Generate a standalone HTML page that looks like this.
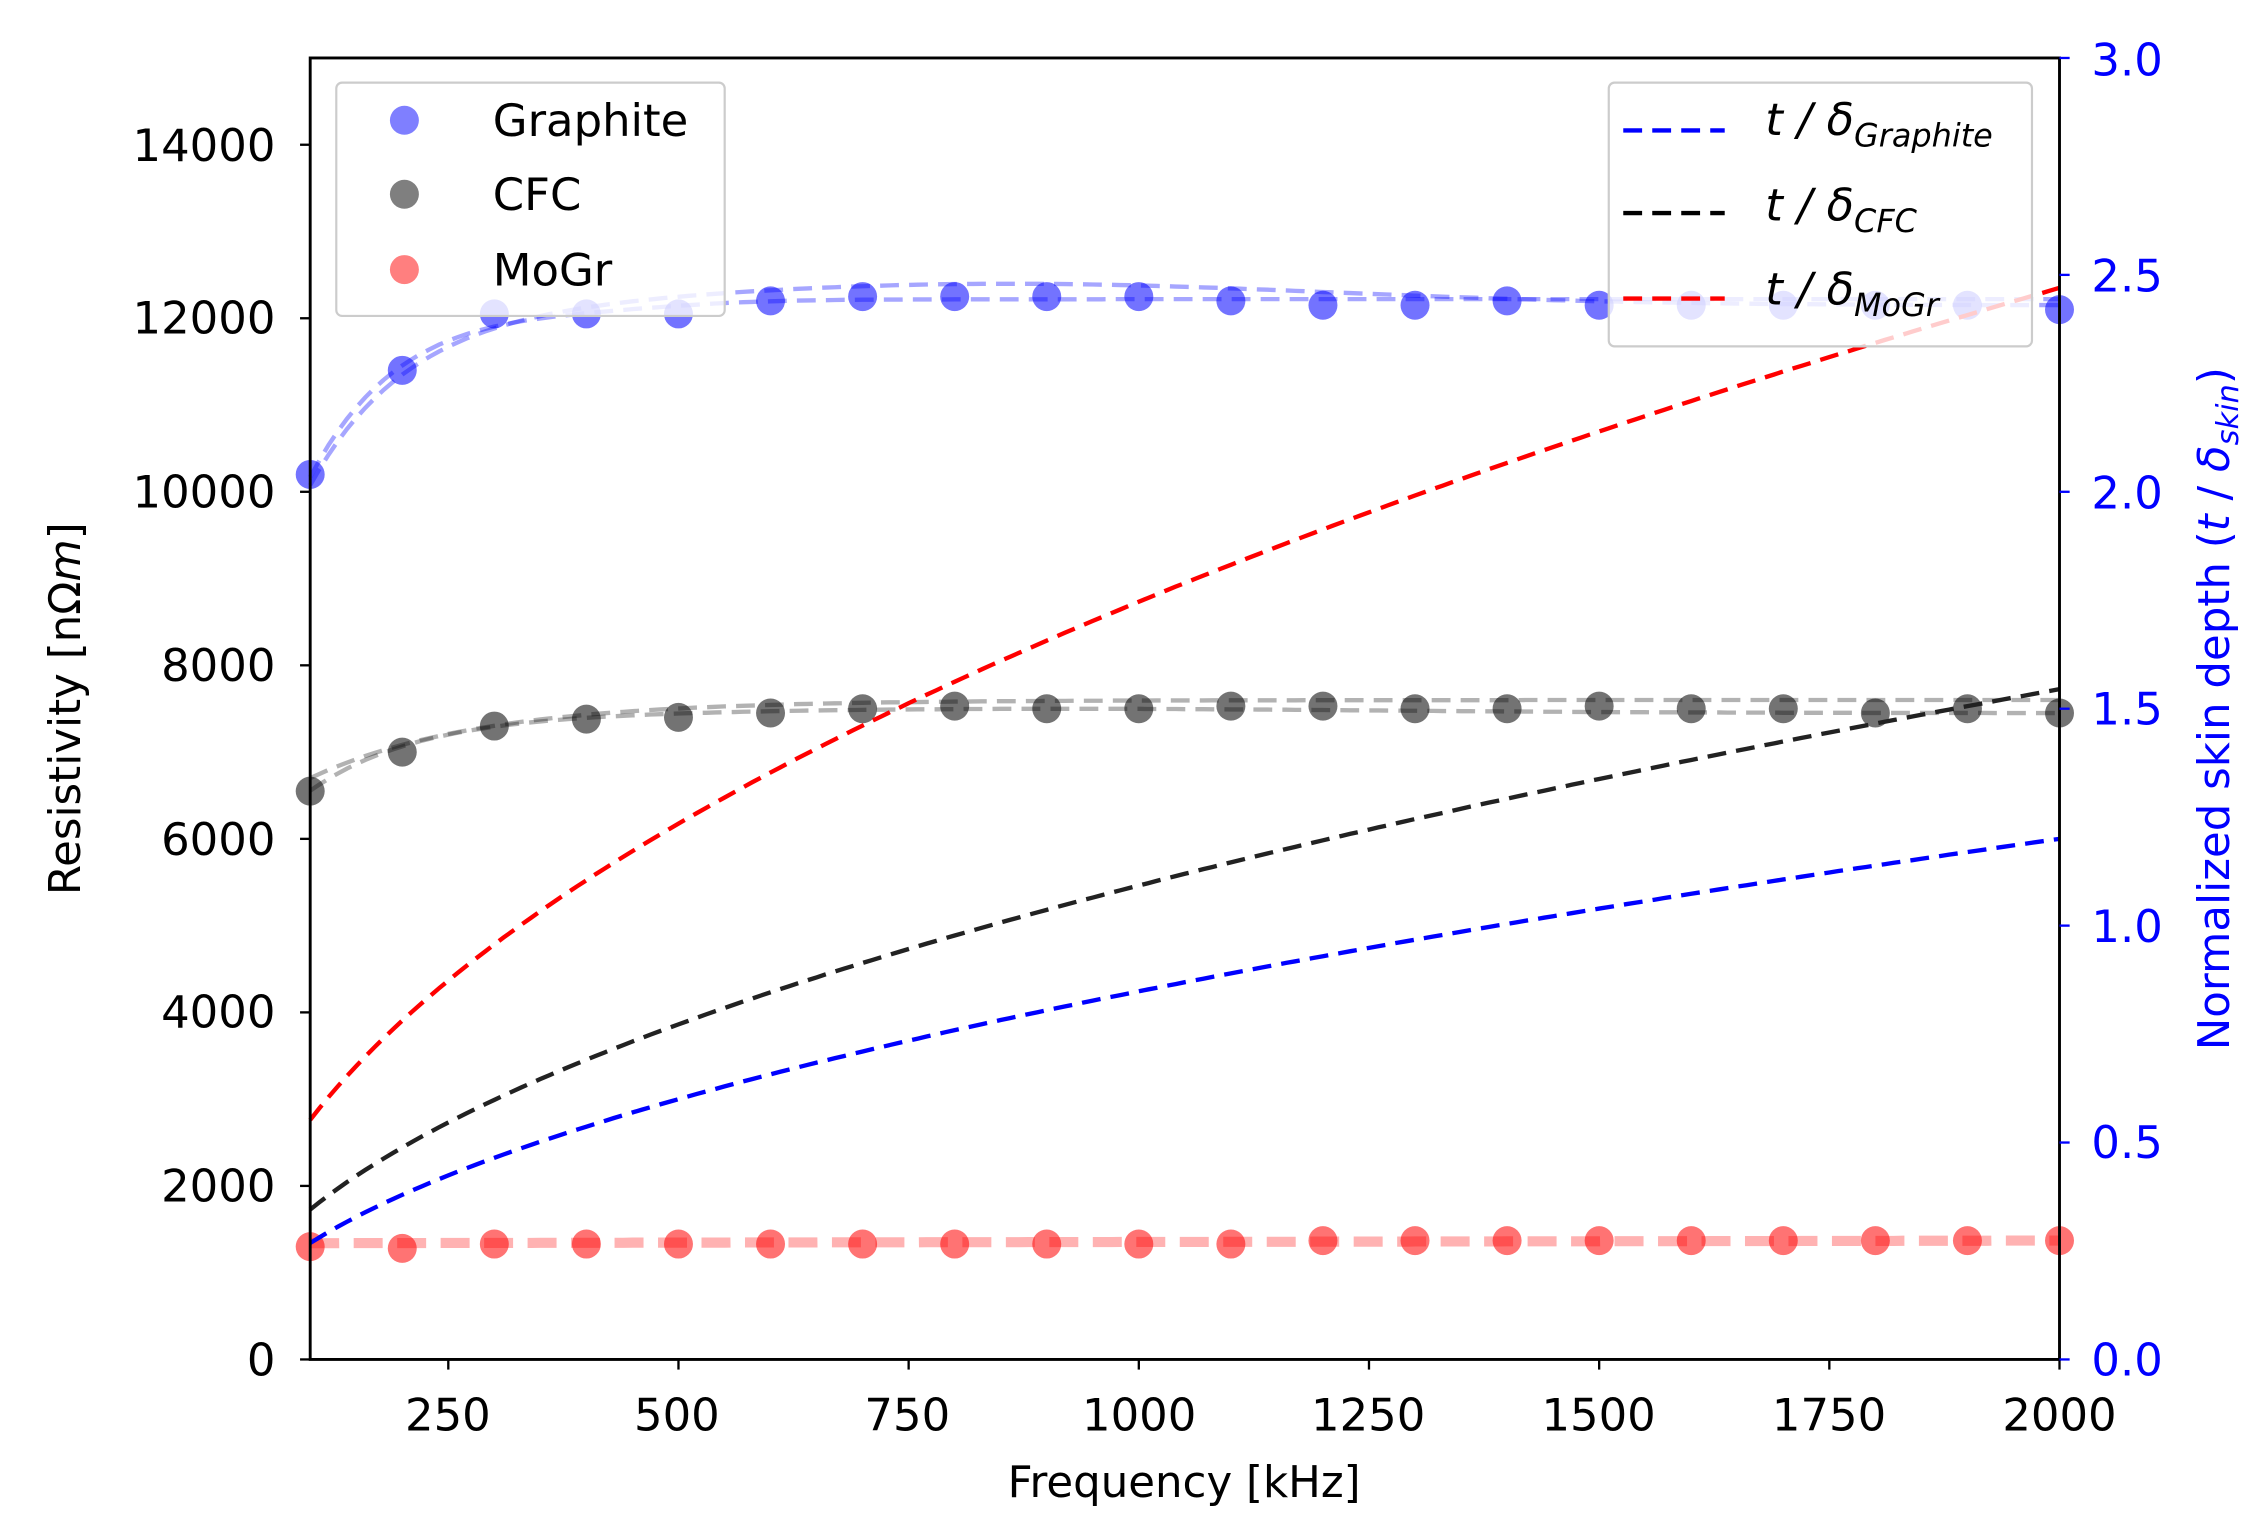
<!DOCTYPE html>
<html><head><meta charset="utf-8"><style>
html,body{margin:0;padding:0;background:#fff;}
svg{display:block;}
text{font-family:"DejaVu Sans","Liberation Sans",sans-serif;}
</style></head><body>
<svg id="s" width="2261" height="1528" viewBox="0 0 1560 1054.3" xmlns="http://www.w3.org/2000/svg">
<rect width="1560" height="1055" fill="#fff"/>
<g id="data"></g>
<rect x="214" y="40" width="1207" height="898" fill="none" stroke="#000" stroke-width="2"/>
<g id="ticks" stroke-width="1.6"></g>
<g font-size="31" fill="#000" text-anchor="end">
<text x="190" y="949">0</text>
<text x="190" y="829">2000</text>
<text x="190" y="709">4000</text>
<text x="190" y="590">6000</text>
<text x="190" y="470">8000</text>
<text x="190" y="350">10000</text>
<text x="190" y="230">12000</text>
<text x="190" y="111">14000</text>
</g>
<g font-size="31" fill="#000" text-anchor="middle">
<text x="309" y="987">250</text>
<text x="467" y="987">500</text>
<text x="626" y="987">750</text>
<text x="786" y="987">1000</text>
<text x="944" y="987">1250</text>
<text x="1103" y="987">1500</text>
<text x="1262" y="987">1750</text>
<text x="1421" y="987">2000</text>
</g>
<g font-size="31" fill="#0000ff" text-anchor="start">
<text x="1443" y="949">0.0</text>
<text x="1443" y="799">0.5</text>
<text x="1443" y="650">1.0</text>
<text x="1443" y="500">1.5</text>
<text x="1443" y="351">2.0</text>
<text x="1443" y="201">2.5</text>
<text x="1443" y="52">3.0</text>
</g>
<text x="817" y="1033" font-size="30" text-anchor="middle">Frequency [kHz]</text>
<text transform="translate(55,489) rotate(-90)" font-size="30" text-anchor="middle">Resistivity [nΩ<tspan font-style="italic">m</tspan>]</text>
<text transform="translate(1538,489) rotate(-90)" font-size="30" text-anchor="middle" fill="#0000ff">Normalized skin depth (<tspan font-style="italic">t</tspan> / <tspan font-style="italic">δ<tspan font-size="21" dy="6">skin</tspan></tspan><tspan dy="-6">)</tspan></text>
<rect x="232" y="57" width="268" height="161" rx="4" fill="#fff" fill-opacity="0.8" stroke="#ccc" stroke-width="1.5"/>
<circle cx="279" cy="83" r="10" fill="#0000ff" fill-opacity="0.5"/>
<circle cx="279" cy="134" r="10" fill="#000" fill-opacity="0.5"/>
<circle cx="279" cy="186" r="10" fill="#ff0000" fill-opacity="0.5"/>
<g font-size="31"><text x="340" y="94">Graphite</text><text x="340" y="145">CFC</text><text x="340" y="197">MoGr</text></g>
<rect x="1110" y="57" width="292" height="182" rx="4" fill="#fff" fill-opacity="0.8" stroke="#ccc" stroke-width="1.5"/>
<g stroke-width="3" stroke-dasharray="13,7" fill="none">
<line x1="1120" y1="90" x2="1190" y2="90" stroke="#0000ff"/>
<line x1="1120" y1="147" x2="1190" y2="147" stroke="#000"/>
<line x1="1120" y1="206" x2="1190" y2="206" stroke="#ff0000"/>
</g>
<g font-size="31" font-style="italic" fill="#000">
<text x="1218" y="93">t / δ<tspan font-size="22" dy="8">Graphite</tspan></text>
<text x="1218" y="152">t / δ<tspan font-size="22" dy="8">CFC</tspan></text>
<text x="1218" y="210">t / δ<tspan font-size="22" dy="8">MoGr</tspan></text>
</g>
</svg>
<script>
var NS="http://www.w3.org/2000/svg";
function X(f){return 214+(f-100)*1207/1900;}
function YL(v){return 938-v*898/15000;}
function YR(v){return 938-v*898/3;}
var g=document.getElementById('data');
function el(t,a){var e=document.createElementNS(NS,t);for(var k in a)e.setAttribute(k,a[k]);g.appendChild(e);return e;}
var fs=[];for(var f=100;f<=2000;f+=100)fs.push(f);
function path(pts,a){var d=pts.map(function(p,i){return (i?'L':'M')+p[0].toFixed(1)+','+p[1].toFixed(1);}).join('');a.d=d;a.fill='none';return el('path',a);}
function curve(fn,Y,a){var p=[];for(var f=100;f<=2000;f+=10)p.push([X(f),Y(fn(f))]);return path(p,a);}
curve(function(f){return 12150+250*Math.exp(-Math.pow((f-850)/500,2))-2100*Math.exp(-(f-100)/110);},YL,{stroke:'#0000ff','stroke-opacity':0.35,'stroke-width':3,'stroke-dasharray':'13,7'});
curve(function(f){return 12220-2050*Math.exp(-(f-100)/100)-60*Math.exp(-Math.pow((f-400)/150,2));},YL,{stroke:'#0000ff','stroke-opacity':0.35,'stroke-width':3,'stroke-dasharray':'13,7'});
curve(function(f){return 7600-900*Math.exp(-(f-100)/180);},YL,{stroke:'#000','stroke-opacity':0.3,'stroke-width':3,'stroke-dasharray':'13,7'});
curve(function(f){return 7450+50*Math.exp(-Math.pow((f-900)/500,2))-900*Math.exp(-(f-100)/120);},YL,{stroke:'#000','stroke-opacity':0.3,'stroke-width':3,'stroke-dasharray':'13,7'});
curve(function(f){return 1340+30*(f-100)/1900;},YL,{stroke:'#ff0000','stroke-opacity':0.3,'stroke-width':7,'stroke-dasharray':'20,10'});
var gr=[10200,11400,12050,12050,12050,12200,12250,12250,12250,12250,12200,12150,12150,12200,12150,12150,12150,12150,12150,12100];
var cf=[6550,7000,7300,7380,7400,7450,7500,7530,7500,7500,7530,7530,7500,7500,7530,7500,7500,7450,7500,7450];
var mo=[1300,1280,1330,1330,1330,1330,1330,1330,1330,1330,1330,1370,1370,1370,1370,1370,1370,1370,1370,1370];
function pts(arr,c){fs.forEach(function(f,i){el('circle',{cx:X(f),cy:YL(arr[i]),r:10,fill:c,'fill-opacity':0.55});});}
pts(gr,'#0000ff');pts(cf,'#000');pts(mo,'#ff0000');
curve(function(f){return 1.2*Math.sqrt(f/2000);},YR,{stroke:'#0000ff','stroke-width':3,'stroke-dasharray':'13,7'});
curve(function(f){return 1.545*Math.sqrt(f/2000);},YR,{stroke:'#222','stroke-width':3,'stroke-dasharray':'13,7'});
curve(function(f){return 2.47*Math.sqrt(f/2000);},YR,{stroke:'#ff0000','stroke-width':3,'stroke-dasharray':'13,7'});
var t=document.getElementById('ticks');
function tk(x1,y1,x2,y2,c){var e=document.createElementNS(NS,'line');e.setAttribute('x1',x1);e.setAttribute('y1',y1);e.setAttribute('x2',x2);e.setAttribute('y2',y2);e.setAttribute('stroke',c);t.appendChild(e);}
for(var v=0;v<=14000;v+=2000)tk(207,YL(v),214,YL(v),'#000');
[250,500,750,1000,1250,1500,1750,2000].forEach(function(f){tk(X(f),938,X(f),945,'#000');});
for(var r=0;r<=3;r+=0.5)tk(1421,YR(r),1428,YR(r),'#0000ff');
</script>
</body></html>
